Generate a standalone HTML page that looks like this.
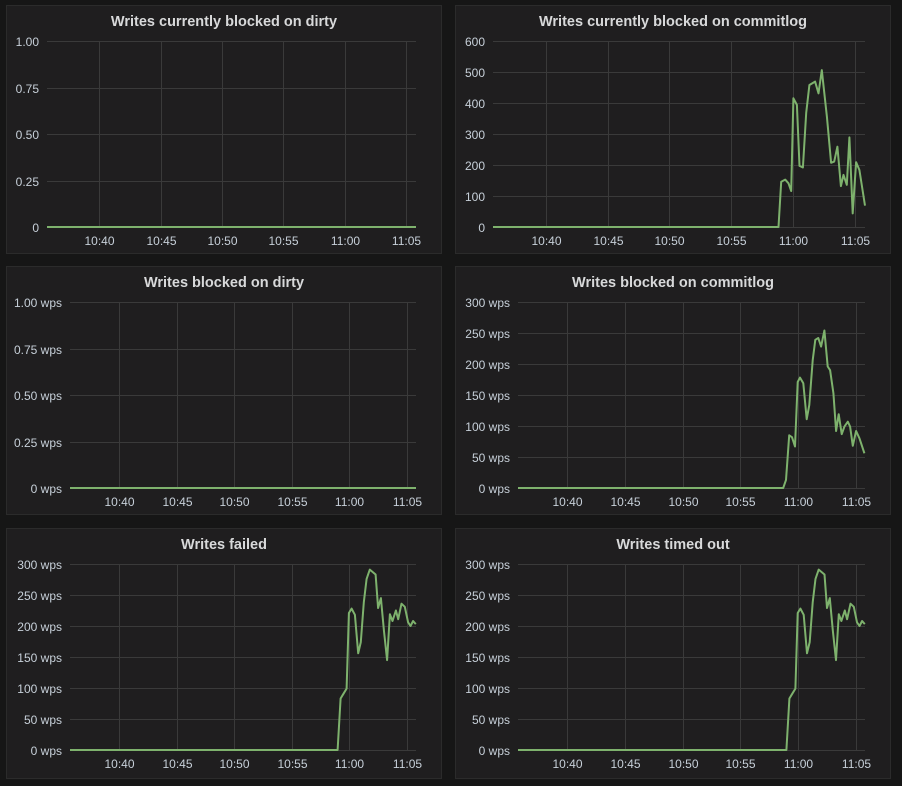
<!DOCTYPE html>
<html><head><meta charset="utf-8">
<style>
html,body{margin:0;padding:0;background:#161616;width:902px;height:786px;overflow:hidden;font-family:"Liberation Sans",sans-serif}
svg{display:block}
</style></head>
<body>
<svg id="c" width="902" height="786" xmlns="http://www.w3.org/2000/svg"></svg>
<script>
// minutes after 10:35
const tickLabels = ["10:40","10:45","10:50","10:55","11:00","11:05"];
const tickMinutes = [5,10,15,20,25,30];
const commitT = [0,23.81,24.03,24.35,24.62,24.84,25.02,25.30,25.51,25.78,26.05,26.31,26.77,27.04,27.31,27.72,28.06,28.31,28.57,28.85,29.06,29.33,29.54,29.81,30.08,30.35,30.81];
const commitV = [0,0,146,153,141,116,415,394,197,192,368,458,469,431,506,356,207,211,259,132,168,136,289,44,209,184,69];
const rateT = [0,23.72,23.96,24.24,24.48,24.74,24.97,25.17,25.46,25.75,25.98,26.27,26.50,26.76,27.0,27.28,27.57,27.78,28.06,28.30,28.52,28.78,29.02,29.31,29.51,29.74,30.03,30.32,30.75];
const rateV = [0,0,13,85,82,67,171,178,169,111,134,206,239,242,228,254,196,190,153,92,119,87,99,107,99,68,92,80,56];
const failT = [0,23.99,24.25,24.48,24.77,24.97,25.21,25.49,25.78,26.01,26.27,26.51,26.79,27.29,27.51,27.75,28.01,28.29,28.53,28.76,29.05,29.25,29.54,29.83,30.11,30.32,30.55,30.78];
const failV = [0,0,83,90,99,221,228,218,156,174,238,276,291,283,229,245,193,145,219,208,225,211,236,231,206,200,208,203];
const zeroT = [0,30.85];
const zeroV = [0,0];
const timeMin = 0.75, timeMax = 30.8;

const panels = [
 {name:"dirty-current",title:"Writes currently blocked on dirty",x:6,y:5,w:436,h:249,pl:47,pr:416,pt:41,pb:227,yt:[0,0.25,0.5,0.75,1],yl:["0","0.25","0.50","0.75","1.00"],ymax:1,t:zeroT,v:zeroV},
 {name:"commitlog-current",title:"Writes currently blocked on commitlog",x:455,y:5,w:436,h:249,pl:493,pr:865,pt:41,pb:227,yt:[0,100,200,300,400,500,600],yl:["0","100","200","300","400","500","600"],ymax:600,t:commitT,v:commitV},
 {name:"dirty-rate",title:"Writes blocked on dirty",x:6,y:266,w:436,h:249,pl:70,pr:416,pt:302,pb:488,yt:[0,0.25,0.5,0.75,1],yl:["0 wps","0.25 wps","0.50 wps","0.75 wps","1.00 wps"],ymax:1,t:zeroT,v:zeroV},
 {name:"commitlog-rate",title:"Writes blocked on commitlog",x:455,y:266,w:436,h:249,pl:518,pr:865,pt:302,pb:488,yt:[0,50,100,150,200,250,300],yl:["0 wps","50 wps","100 wps","150 wps","200 wps","250 wps","300 wps"],ymax:300,t:rateT,v:rateV},
 {name:"writes-failed",title:"Writes failed",x:6,y:528,w:436,h:251,pl:70,pr:416,pt:564,pb:750,yt:[0,50,100,150,200,250,300],yl:["0 wps","50 wps","100 wps","150 wps","200 wps","250 wps","300 wps"],ymax:300,t:failT,v:failV},
 {name:"writes-timed-out",title:"Writes timed out",x:455,y:528,w:436,h:251,pl:518,pr:865,pt:564,pb:750,yt:[0,50,100,150,200,250,300],yl:["0 wps","50 wps","100 wps","150 wps","200 wps","250 wps","300 wps"],ymax:300,t:failT,v:failV}
];
const NS="http://www.w3.org/2000/svg";
const svg=document.getElementById('c');
function mk(tag,attrs,parent){const e=document.createElementNS(NS,tag);for(const k in attrs)e.setAttribute(k,attrs[k]);parent.appendChild(e);return e;}
panels.forEach(p=>{
  const g=mk('g',{},svg);
  
  
  mk('rect',{x:p.x+0.5,y:p.y+0.5,width:p.w-1,height:p.h-1,fill:'#1f1e1f',stroke:'#2b2b2b'},g);
  const tt=mk('text',{x:p.x+p.w/2,y:p.y+21,'text-anchor':'middle',fill:'#d8d9da','font-size':'14.5','font-weight':'bold'},g);
  tt.textContent=p.title;
  
  
  const X=t=>{const c=Math.max(timeMin,Math.min(timeMax,t));return p.pl+(c-timeMin)/(timeMax-timeMin)*(p.pr-p.pl);};
  const Y=v=>p.pb-(v/p.ymax)*(p.pb-p.pt);
  p.yt.forEach((v,i)=>{
    const y=Math.round(Y(v))+0.5;
    mk('line',{x1:p.pl,x2:p.pr,y1:y,y2:y,stroke:'#3a3a3a'},g);
    const lt=mk('text',{x:p.pl-8,y:y+4.5,'text-anchor':'end',fill:'#c7d0d9','font-size':'12'},g);
    lt.textContent=p.yl[i];
    
    
  });
  tickMinutes.forEach((m,i)=>{
    const x=Math.round(X(m))+0.5;
    mk('line',{x1:x,x2:x,y1:p.pt,y2:p.pb,stroke:'#3a3a3a'},g);
    const lt=mk('text',{x:x,y:p.pb+18,'text-anchor':'middle',fill:'#c7d0d9','font-size':'12'},g);
    lt.textContent=tickLabels[i];
    
    
  });
  const pts=p.t.map((t,i)=>X(t).toFixed(1)+','+Y(p.v[i]).toFixed(1)).join(' ');
  const line=mk('polyline',{points:pts,fill:'none',stroke:'#7eb26d','stroke-width':'2','stroke-linejoin':'round'},g);
  
  
});
</script>
</body></html>
